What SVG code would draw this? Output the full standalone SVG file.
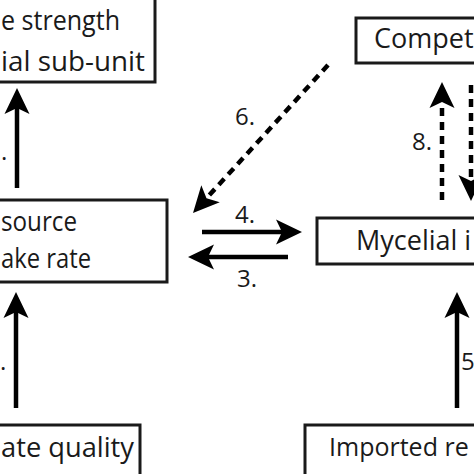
<svg xmlns="http://www.w3.org/2000/svg" width="474" height="474" viewBox="0 0 474 474">
<style>
.box{fill:#fff;stroke:#1a1a1a;stroke-width:3}
.t{font-family:"Open Sans","DejaVu Sans",sans-serif;font-size:27px;fill:#1a1a1a}
.lab{font-family:"Open Sans","DejaVu Sans",sans-serif;font-size:24px;fill:#1a1a1a}
.solid{stroke:#000;stroke-width:4.5;fill:none;marker-end:url(#ah)}
.dash{stroke:#000;stroke-width:4.5;fill:none;stroke-dasharray:8 6;marker-end:url(#ah)}
</style>
<defs>
<marker id="ah" markerUnits="userSpaceOnUse" viewBox="-7 -13 28 26" markerWidth="28" markerHeight="26" refX="0" refY="0" orient="auto">
<path d="M20,0 L-6,-12.5 L0,0 L-6,12.5 Z" fill="#000"/>
</marker>
</defs>
<rect width="474" height="474" fill="#fff"/>
<g id="strength">
<rect class="box" x="-20" y="-10" width="175" height="92"/>
<text class="t" x="1" y="30" textLength="119" lengthAdjust="spacingAndGlyphs">e strength</text>
<text class="t" x="1" y="71" textLength="144" lengthAdjust="spacingAndGlyphs">ial sub-unit</text>
</g>
<g id="competitor">
<rect class="box" x="356" y="18" width="140" height="45"/>
<text class="t" x="374" y="48">Compet</text>
</g>
<g id="uptake">
<rect class="box" x="-20" y="200" width="187" height="82"/>
<text class="t" x="1" y="231" textLength="76" lengthAdjust="spacingAndGlyphs">source</text>
<text class="t" x="1" y="268" textLength="90" lengthAdjust="spacingAndGlyphs">ake rate</text>
</g>
<g id="mycelial">
<rect class="box" x="317" y="218" width="180" height="46"/>
<text class="t" x="356" y="250">Mycelial i</text>
</g>
<g id="substrate">
<rect class="box" x="-20" y="425" width="160" height="70"/>
<text class="t" x="1" y="457" textLength="133" lengthAdjust="spacingAndGlyphs">ate quality</text>
</g>
<g id="imported">
<rect class="box" x="305" y="425" width="190" height="70"/>
<text class="t" x="329" y="456" style="font-size:25px">Imported re</text>
</g>
<g id="connectors">
<line class="solid" x1="17" y1="188" x2="17" y2="108"/>
<line class="solid" x1="16" y1="408" x2="16" y2="312"/>
<line class="solid" x1="457" y1="408" x2="457" y2="312"/>
<line class="solid" x1="202" y1="232" x2="282" y2="232"/>
<line class="solid" x1="288" y1="257" x2="208" y2="257"/>
<line class="dash" x1="442" y1="200" x2="442" y2="102"/>
<line class="dash" x1="471" y1="85" x2="471" y2="181"/>
<line class="dash" x1="328" y1="65" x2="206.5" y2="198.2"/>
<text class="lab" x="1" y="160">.</text>
<text class="lab" x="0" y="370">.</text>
<text class="lab" x="235" y="223">4.</text>
<text class="lab" x="237" y="287">3.</text>
<text class="lab" x="235" y="125">6.</text>
<text class="lab" x="412" y="150">8.</text>
<text class="lab" x="461" y="370">5</text>
</g>
</svg>
